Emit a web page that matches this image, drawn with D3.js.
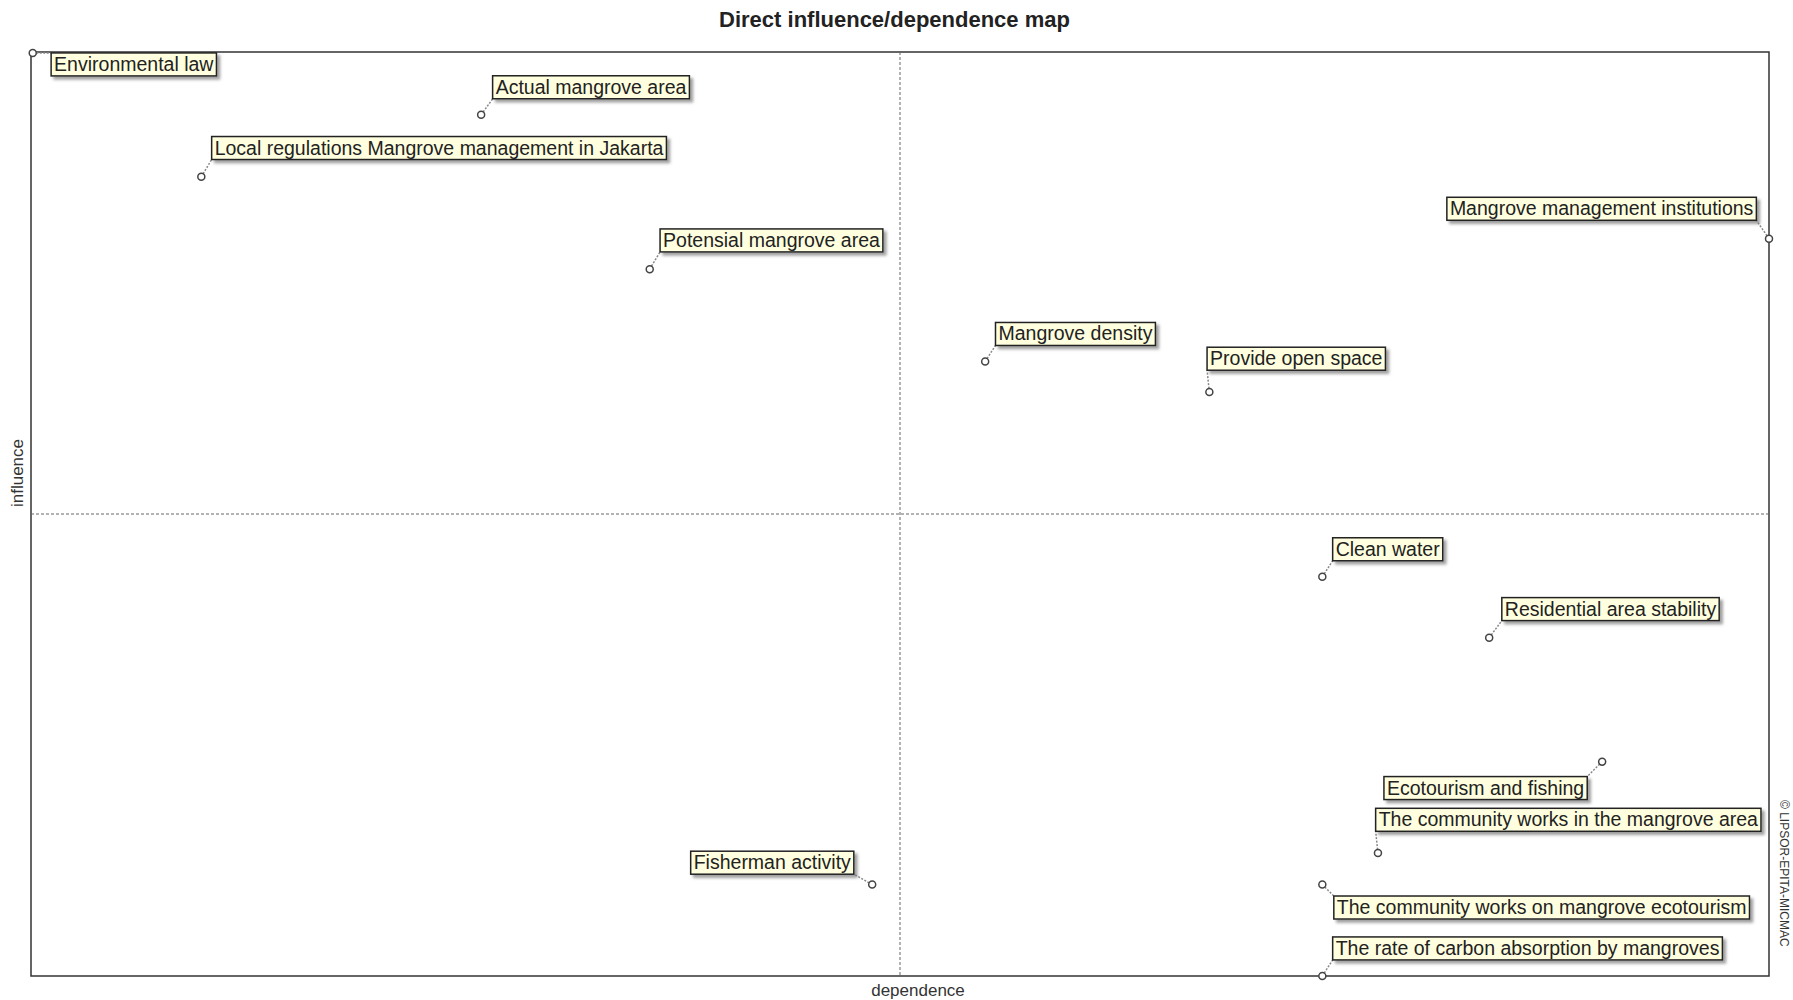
<!DOCTYPE html>
<html>
<head>
  <script src="https://d3js.org/d3.v7.min.js"></script>
  <style>
    body { margin: 0; background: #fff; }
    text { font-family: "Liberation Sans", Arial, sans-serif; }
    .lbl { font-size: 19.5px; fill: #222; letter-spacing: 0px; }
  </style>
</head>
<body>
  <svg id="chart"></svg>
  <script>
    // variables and their (dependence, influence) positions, 0-100 scale
    var names = [
      "Environmental law", "Actual mangrove area", "Local regulations Mangrove management in Jakarta",
      "Potensial mangrove area", "Mangrove management institutions", "Mangrove density",
      "Provide open space", "Clean water", "Residential area stability", "Ecotourism and fishing",
      "The community works in the mangrove area", "Fisherman activity",
      "The community works on mangrove ecotourism", "The rate of carbon absorption by mangroves"
    ];
    var dependence = [0.1, 25.9, 9.8, 35.6, 100, 54.9, 67.8, 74.3, 83.9, 90.4, 77.5, 48.4, 74.3, 74.3];
    var influence  = [99.9, 93.2, 86.5, 76.5, 79.8, 66.5, 63.2, 43.2, 36.6, 23.2, 13.3, 9.9, 9.9, 0];

    // label box offsets from the point (dx = left edge, or right edge when anchor "end"; dy = top edge)
    var labelPos = [
      [16, 0, "start"], [10, -34, "start"], [9, -35, "start"], [9, -35, "start"],
      [-11, -36, "end"], [9, -34, "start"], [-2, -39, "start"], [9, -34, "start"],
      [11, -35, "start"], [-13, 13, "end"], [-2, -39, "start"], [-16, -29, "end"],
      [10, 10, "start"], [9, -34, "start"]
    ];

    var W = 1793, H = 1000, k = 1.149;
    var margin = { top: 52, right: 24, bottom: 24, left: 31 };
    var width = W - margin.left - margin.right;
    var height = H - margin.top - margin.bottom;

    var svg = d3.select("#chart").attr("width", W).attr("height", H);

    var defs = svg.append("defs");
    var f = defs.append("filter").attr("id", "shadow").attr("x", "-10%").attr("y", "-30%")
      .attr("width", "130%").attr("height", "180%");
    f.append("feDropShadow").attr("dx", 3).attr("dy", 3).attr("stdDeviation", 1.5)
      .attr("flood-color", "#777").attr("flood-opacity", 0.7);

    svg.append("text")
      .attr("x", W / 2 - 2).attr("y", 27)
      .attr("text-anchor", "middle")
      .style("font-size", "22px").style("font-weight", "bold").style("fill", "#222")
      .text("Direct influence/dependence map");

    var g = svg.append("g").attr("transform", "translate(" + margin.left + "," + margin.top + ")");

    var x = d3.scaleLinear().domain([0, 100]).range([0, width]);
    var y = d3.scaleLinear().domain([0, 100]).range([height, 0]);

    g.append("rect").attr("width", width).attr("height", height)
      .attr("fill", "none").attr("stroke", "#333").attr("stroke-width", 1.5);

    g.append("line").attr("x1", x(50)).attr("x2", x(50)).attr("y1", 0).attr("y2", height)
      .attr("stroke", "#666").attr("stroke-dasharray", "3,2");
    g.append("line").attr("x1", 0).attr("x2", width).attr("y1", y(50)).attr("y2", y(50))
      .attr("stroke", "#666").attr("stroke-dasharray", "3,2");

    svg.append("line").attr("x1", 10).attr("x2", W - 20).attr("y1", 1001).attr("y2", 1001)
      .attr("stroke", "#ddd");

    svg.append("text").attr("x", 918).attr("y", 996).attr("text-anchor", "middle")
      .style("font-size", "17px").style("fill", "#333").text("dependence");
    svg.append("text").attr("transform", "translate(23,473) rotate(-90)").attr("text-anchor", "middle")
      .style("font-size", "17px").style("fill", "#333").text("influence");
    svg.append("text").attr("transform", "translate(1780,800) rotate(90)").attr("text-anchor", "start")
      .style("font-size", "12px").style("fill", "#333").text("© LIPSOR-EPITA-MICMAC");

    var data = names.map(function(n, i) {
      return { name: n, d: dependence[i], inf: influence[i], pos: labelPos[i] };
    });

    var nodes = g.selectAll(".node").data(data).enter().append("g")
      .attr("transform", function(d) { return "translate(" + x(d.d) + "," + y(d.inf) + ")"; });

    nodes.each(function(d) {
      var node = d3.select(this);
      var t = node.append("text").attr("class", "lbl").text(d.name);
      var tw = t.node().getComputedTextLength();
      var bw = tw + 6, bh = 23;
      var bx = d.pos[2] === "end" ? d.pos[0] * k - bw : d.pos[0] * k;
      var by = d.pos[1] * k;
      // leader to the nearest box corner
      var cx = Math.abs(bx) < Math.abs(bx + bw) ? bx : bx + bw;
      var cy = Math.abs(by) < Math.abs(by + bh) ? by : by + bh;
      node.insert("line", "text").attr("x1", 0).attr("y1", 0).attr("x2", cx).attr("y2", cy)
        .attr("stroke", "#888").attr("stroke-width", 1.5).attr("stroke-dasharray", "2,1.5");
      node.insert("rect", "text").attr("x", bx).attr("y", by).attr("width", bw).attr("height", bh)
        .attr("fill", "#ffffdf").attr("stroke", "#222").attr("stroke-width", 1.5)
        .attr("filter", "url(#shadow)");
      t.attr("x", bx + 3).attr("y", by + 18);
      node.append("circle").attr("r", 3.5).attr("fill", "#fff")
        .attr("stroke", "#444").attr("stroke-width", 1.5);
    });
  </script>
</body>
</html>
